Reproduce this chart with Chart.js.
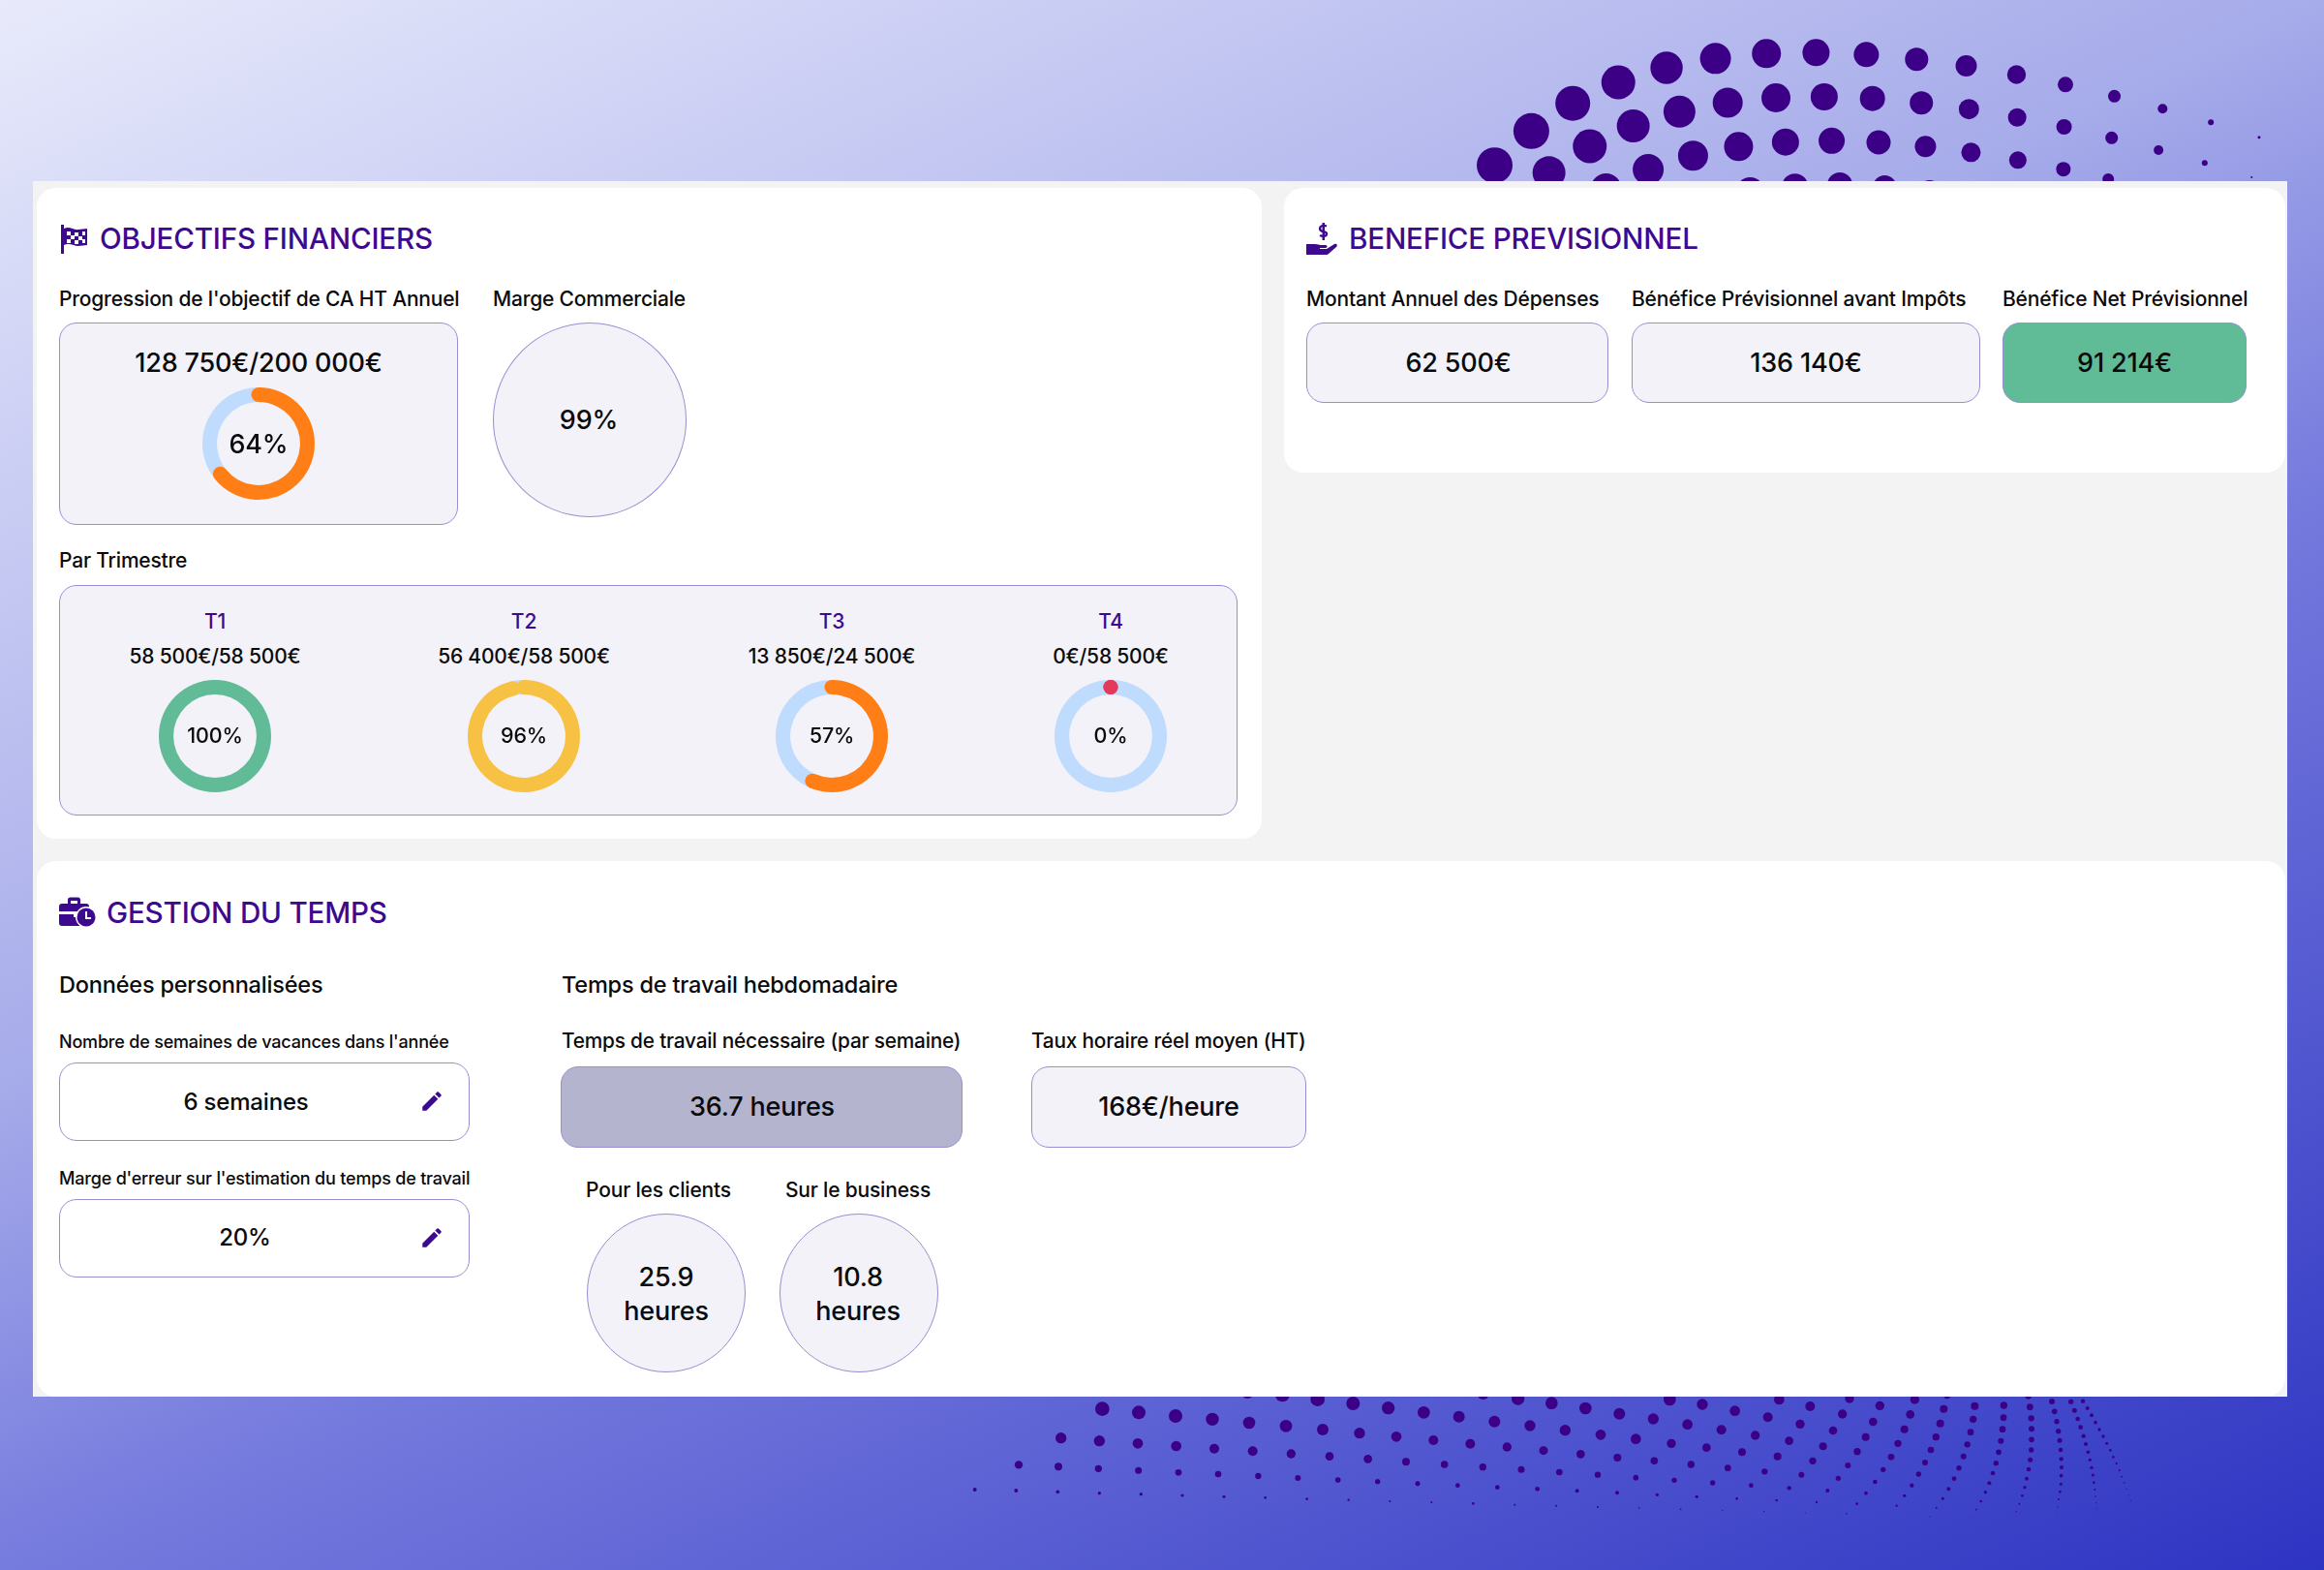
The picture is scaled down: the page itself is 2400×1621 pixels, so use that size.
<!DOCTYPE html>
<html lang="fr">
<head>
<meta charset="utf-8">
<title>Tableau de bord</title>
<script src="https://cdn.jsdelivr.net/npm/chart.js@4"></script>
<style>
  html, body { margin: 0; padding: 0; }
  body {
    position: relative; width: 2400px; height: 1621px; overflow: hidden;
    background: linear-gradient(155deg, #e8eafb 0%, #a6abea 41%, #767bde 59%, #2e34c2 100%);
    font-family: Inter, "Noto Sans", sans-serif; font-weight: 500; color: #0a0a0a;
    letter-spacing: -0.012em;
  }
  .box, .txt, canvas, svg { position: absolute; }
  .box { box-sizing: border-box; }
  .panel { left: 34px; top: 187px; width: 2328px; height: 1255px; background: #f3f3f3; }
  .card { background: #fff; border-radius: 20px; }
  .field { background: #f2f2f8; border: 1.5px solid #9490d2; border-radius: 18px; }
  .round { border-radius: 50%; }
  .txt { white-space: nowrap; line-height: 1; transform: translateY(-50%); }
  .mid { transform: translate(-50%, -50%); text-align: center; }
</style>
</head>
<body>
<canvas id="dots" width="2400" height="1621" style="left:0;top:0"></canvas>
<div class="box panel"></div>
<div class="box card" style="left:38px;top:194px;width:1265px;height:672px"></div>
<div class="box card" style="left:1326px;top:194px;width:1034px;height:294px"></div>
<div class="box card" style="left:38px;top:889px;width:2322px;height:553px"></div>

<div class="box field" style="left:61px;top:333px;width:412px;height:209px"></div>
<div class="box field round" style="left:509px;top:333px;width:200px;height:201px"></div>
<div class="box field" style="left:61px;top:604px;width:1217px;height:238px"></div>
<div class="box field" style="left:1349px;top:333px;width:312px;height:83px"></div>
<div class="box field" style="left:1685px;top:333px;width:360px;height:83px"></div>
<div class="box field" style="left:2068px;top:333px;width:252px;height:83px;background:#60bb97"></div>
<div class="box field" style="left:61px;top:1097px;width:424px;height:81px;background:#fff"></div>
<div class="box field" style="left:61px;top:1238px;width:424px;height:81px;background:#fff"></div>
<div class="box field" style="left:579px;top:1101px;width:415px;height:84px;background:#b4b4ce"></div>
<div class="box field" style="left:1065px;top:1101px;width:284px;height:84px"></div>
<div class="box field round" style="left:606px;top:1253px;width:164px;height:164px"></div>
<div class="box field round" style="left:805px;top:1253px;width:164px;height:164px"></div>

<canvas id="ringYear" width="120" height="120" style="left:207px;top:398px"></canvas>
<canvas id="ringT1" width="120" height="120" style="left:162px;top:700px"></canvas>
<canvas id="ringT2" width="120" height="120" style="left:481px;top:700px"></canvas>
<canvas id="ringT3" width="120" height="120" style="left:799px;top:700px"></canvas>
<canvas id="ringT4" width="120" height="120" style="left:1087px;top:700px"></canvas>

<!-- section icons -->
<svg style="left:60px;top:230px" width="34" height="34" viewBox="0 0 34 34" fill="#3d0a8f">
  <path d="M3 2h3v30H3z"/>
  <path d="M6 6c6-3 10 2 15 1 3 0 6-1 9-1v17c-3 0-6 1-9 1-5 0-9-4-15-1z"/>
  <g fill="#fff">
    <path d="M9 9h4v4H9zM17 10h4v4h-4zM25 9h3v4h-3zM13 13h4v4h-4zM21 14h4v4h-4zM9 17h4v4H9zM17 18h4v4h-4zM25 17h3v4h-3z"/>
  </g>
</svg>
<svg style="left:1346px;top:230px" width="38" height="36" viewBox="0 0 38 36" fill="#3d0a8f">
  <path d="M3 22h9c3 0 4 1 6 1h5c2 0 2 3 0 3h-6v1h7l8-5c2-1 4 1 2 3l-8 7c-1 1-2 1-3 1H3z"/>
  <path d="M24 3.5c-4-1.5-7 0-7 2.5 0 4.500 7 2 7 5.500 0 2.500-4 3-7 1.500" fill="none" stroke="#3d0a8f" stroke-width="2.400"/>
  <path d="M19.500 0h2.500v18h-2.500z"/>
</svg>
<svg style="left:60px;top:925px" width="42" height="36" viewBox="0 0 42 36" fill="#3d0a8f">
  <path d="M10 8V4c0-1.500 1-2.500 2.500-2.500h8C22 1.500 23 2.500 23 4v4h-3V5h-7v3z"/>
  <path d="M1 11c0-2 1-3 3-3h25c2 0 3 1 3 3v5H1z"/>
  <path d="M1 19h15v3h5v-3h10v12H4c-2 0-3-1-3-3z"/>
  <circle cx="29" cy="22" r="11" fill="#fff"/>
  <circle cx="29" cy="22" r="9.500"/>
  <path d="M28 16h2v6h4v2h-6z" fill="#fff"/>
</svg>
<svg style="left:433px;top:1124px" width="26" height="26" viewBox="0 0 24 24" fill="#3d0a8f">
  <path d="M3 17.250V21h3.750L17.810 9.940l-3.750-3.750L3 17.250zM20.710 7.040c.39-.39.39-1.020 0-1.410l-2.340-2.340c-.39-.39-1.020-.39-1.410 0l-1.830 1.830 3.750 3.750 1.830-1.830z"/>
</svg>
<svg style="left:433px;top:1265px" width="26" height="26" viewBox="0 0 24 24" fill="#3d0a8f">
  <path d="M3 17.250V21h3.750L17.810 9.940l-3.750-3.750L3 17.250zM20.710 7.040c.39-.39.39-1.020 0-1.410l-2.340-2.340c-.39-.39-1.020-.39-1.410 0l-1.830 1.830 3.750 3.750 1.830-1.830z"/>
</svg>

<script>
/* Values */

const yearDone = 128750;
const yearGoal = 200000;
const yearLabel = "128 750€/200 000€";
const yearPercent = "64%";
const marginPercent = "99%";

const quarterNames = ["T1", "T2", "T3", "T4"];
const quarterDone = [58500, 56400, 13850, 0];
const quarterGoal = [58500, 58500, 24500, 58500];
const quarterAmounts = ["58 500€/58 500€", "56 400€/58 500€", "13 850€/24 500€", "0€/58 500€"];
const quarterPercents = ["100%", "96%", "57%", "0%"];
const quarterColors = ["#62bb97", "#f7c244", "#ff7f16", "#e33a5c"];

const profitLabels = ["Montant Annuel des Dépenses", "Bénéfice Prévisionnel avant Impôts", "Bénéfice Net Prévisionnel"];
const profitValues = ["62 500€", "136 140€", "91 214€"];

/* Halftone dots: [x, y, r], in the pixels of the crop they were read from */

const dotsTop = [
    [347,512,18.5],[401,406,18.5],[462,320,18],[529,255,17.5],[600,210,16.7],[672,181,16],[747,166,15],[820,163,14],[894,169,13],
    [968,184,12],[1041,204,11],[1115,231,9.7],[1187,262,8],[1259,298,6.5],[1330,337,5],[1401,379,3],[1472,425,1.5],
    [427,535,17],[487,453,17.5],[551,390,17],[619,346,16.5],[690,318,15.5],[761,303,15],[832,300,14],[903,305,13],
    [975,319,12],[1045,338,10.5],[1116,364,9.5],[1185,393,8],[1255,427,6.5],[1324,465,5],[1392,505,3],[1461,549,1],
    [511,585,16],[573,525,16],[639,482,15.5],[706,454,15],[775,440,14],[843,436,13.5],[912,441,12.5],[981,454,11],
    [1048,472,10],[1117,496,9],[1184,524,7.5],[1250,555,6],
    [723,591,14],[789,578,13.5],[855,573,13],[921,579,12],[987,591,11]
];

const dotsBottomLeft = [
    [895,-8,20],[1003,0,22],[1112,14,22],[1222,27,21],[1331,41,20],[1441,55,19],
    [445,44,22],[558,55,21],[672,66,21],[786,76,20],[900,87,19],[1014,97,19],[1128,108,18],[1242,119,17],[1356,130,16],[1471,141,15],
    [317,134,17],[436,143,17],[555,151,16],[674,159,16],[792,167,15],[911,175,15],[1030,183,14],[1149,191,13],[1268,199,13],[1386,208,12],[1505,216,11.5],
    [186,217,12.5],[309,223,12],[433,229,11],[557,235,10.5],[681,241,10],[804,246,10],[928,252,9.5],[1051,258,9],[1175,264,8.5],[1298,269,8],[1422,275,7.5],
    [50,294,6],[178,297,6],[307,301,5.5],[436,305,5],[565,308,5],[693,312,4.5],[822,316,4.5],[950,319,4],[1079,323,4],[1208,326,3.5],[1336,330,3],[1465,333,3]
];

const dotsBottomMiddle = [
    [95,-3,18],[203,12,20],[307,26,19],[412,42,19],[517,59,18],[622,75,17],[728,92,16],[833,109,15],[938,126,14],[1043,143,13],[1148,160,12],
    [20,68,18],[130,83,18],[240,96,17],[349,110,17],[459,124,16],[568,137,16],[678,151,14],[787,164,13],[897,178,12],[1007,191,12],[1116,205,11],
    [55,152,15],[169,162,14],[282,173,13.5],[397,184,13],[511,195,12],[625,205,11.5],[739,216,11],[853,227,10],[967,238,9.5],[1081,248,9],[1195,259,8],
    [94,224,11],[213,232,10.5],[331,240,10],[450,248,9.5],[568,257,8.5],[687,265,8],[806,273,8],[925,281,7],[1043,289,6.5],[1162,297,6],
    [16,281,7],[139,287,7],[263,292,7],[386,298,6],[510,304,6],[634,310,5],[757,316,5],[881,322,4],[1004,327,4],[1128,333,3.5],
    [64,337,4],[193,341,3],[321,344,3],[450,348,3],[578,351,2.5],[707,355,2.5],[836,358,2],[965,362,2],[1093,366,1.5],
    [673,15,19],[774,30,17],[875,50,16],[977,70,15],[1077,91,14],[1179,111,13],
    [1012,15,16],[1108,36,15]
];

const dotsBottomRight = [
    [30,12,14],[8,60,14],
    [124,34,14],[103,84,13],[80,131,12],[54,176,11],[25,219,9],
    [232,15,14],[218,61,13],[200,107,12],[180,151,11],[159,193,10],[134,232,8],[109,270,7],[81,305,5.5],[53,338,4],[21,369,2.5],
    [332,3,10],[322,44,12],[311,89,12],[298,131,11],[282,171,10],[264,210,9],[244,246,8],[223,281,6.5],[200,313,5],[176,344,3.5],
    [418,35,12],[413,76,11],[405,116,10],[395,154,9.5],[383,191,9],[369,227,8],[354,260,7],[337,292,6],[319,322,4.5],[299,350,3],[279,377,1.5],
    [508,33,11],[507,71,10],[504,107,10],[499,143,9],[492,178,8.5],[484,212,8],[474,243,7],[463,274,6],[451,302,5],[437,330,4],[422,356,2.5],[406,381,1],
    [584,4,10],[589,38,10],[593,73,9.5],[594,106,9],[594,139,8.5],[593,171,8],[590,202,7.5],[585,231,7],[579,260,6],[573,287,5],[565,313,4],[556,338,3],[547,362,2],
    [657,21,9],[665,52,8.5],[672,83,8],[677,113,8],[681,142,7.5],[684,171,7],[686,199,6.5],[687,225,6],[686,251,5.5],[685,277,4.5],[682,301,4],[678,324,3],[674,347,2],[670,368,1],
    [716,22,8],[727,49,7.5],[737,75,7],[746,101,7],[755,128,6.5],[762,153,6],[769,178,5.5],[775,202,5],[780,226,5],[784,249,4.5],[787,272,4],[790,294,3],[792,315,2.5],[794,335,2],[795,354,1.5],[796,372,1],
    [753,20,6.5],[767,42,6],[780,64,6],[792,86,5.5],[804,108,5],[816,129,5],[827,151,4.5],[838,172,4],[847,193,4],[857,213,3.5],[866,234,3],[873,254,2.5],[881,273,2.5],[888,292,2],[895,311,1.5],[901,328,1.5],[907,345,1]
];

/* Text */

function text(str, x, y, size, centered, color) {
    const el = document.createElement("div");
    el.className = centered ? "txt mid" : "txt";
    el.textContent = str;
    el.style.left = x + "px";
    el.style.top = y + "px";
    el.style.fontSize = size + "px";
    if (color) el.style.color = color;
    document.body.appendChild(el);
}

const INDIGO = "#3d0a8f";

text("OBJECTIFS FINANCIERS", 103, 247, 29.6, false, INDIGO);
text("BENEFICE PREVISIONNEL", 1393, 247, 29.6, false, INDIGO);
text("GESTION DU TEMPS", 110, 943, 29.6, false, INDIGO);

text("Progression de l'objectif de CA HT Annuel", 61, 308, 21);
text("Marge Commerciale", 509, 308, 21);
text(yearLabel, 267, 374, 27, true);
text(yearPercent, 267, 458, 27, true);
text(marginPercent, 608, 433, 27, true);
text("Par Trimestre", 61, 578, 21);

const quarterX = [222, 541, 859, 1147];
quarterNames.forEach((name, i) => {
    text(name, quarterX[i], 641, 21, true, INDIGO);
    text(quarterAmounts[i], quarterX[i], 677, 21, true);
    text(quarterPercents[i], quarterX[i], 760, 21.5, true);
});

const profitLabelX = [1349, 1685, 2068];
const profitValueX = [1506, 1865, 2194];
profitLabels.forEach((label, i) => {
    text(label, profitLabelX[i], 308, 21);
    text(profitValues[i], profitValueX[i], 374, 27, true);
});

text("Données personnalisées", 61, 1017, 23.5);
text("Temps de travail hebdomadaire", 580, 1017, 23.5);
text("Nombre de semaines de vacances dans l'année", 61, 1076, 18);
text("6 semaines", 254, 1138, 24, true);
text("Marge d'erreur sur l'estimation du temps de travail", 61, 1217, 18);
text("20%", 253, 1278, 24, true);
text("Temps de travail nécessaire (par semaine)", 580, 1075, 20.8);
text("Taux horaire réel moyen (HT)", 1065, 1075, 20.8);
text("36.7 heures", 787, 1142, 27, true);
text("168€/heure", 1207, 1142, 27, true);
text("Pour les clients", 680, 1228, 21, true);
text("Sur le business", 886, 1228, 21, true);
text("25.9", 688, 1318, 27, true);
text("heures", 688, 1353, 27, true);
text("10.8", 886, 1318, 27, true);
text("heures", 886, 1353, 27, true);

/* Rings */

const roundCaps = {

    id: "roundCaps",

    afterDatasetsDraw(chart, args, options) {

        const arc = chart.getDatasetMeta(0).data[0];
        const middle = (arc.innerRadius + arc.outerRadius) / 2;
        const size = (arc.outerRadius - arc.innerRadius) / 2;
        const ctx = chart.ctx;

        ctx.save();
        ctx.fillStyle = options.color;

        [arc.startAngle, arc.endAngle].forEach((angle) => {
            ctx.beginPath();
            ctx.arc(arc.x + Math.cos(angle) * middle, arc.y + Math.sin(angle) * middle, size, 0, Math.PI * 2);
            ctx.fill();
        });

        ctx.restore();

    }

};

function ring(id, done, goal, color) {

    new Chart(document.getElementById(id), {

        type: "doughnut",

        data: {
            datasets: [{
                data: [done, goal - done],
                backgroundColor: [color, "#bfdbfe"],
                borderWidth: 0
            }]
        },

        options: {
            responsive: false,
            animation: false,
            cutout: "74%",
            layout: { padding: 2 },
            plugins: {
                legend: { display: false },
                tooltip: { enabled: false },
                roundCaps: { color: color }
            }
        },

        plugins: [roundCaps]

    });

}

ring("ringYear", yearDone, yearGoal, "#ff7f16");
quarterNames.forEach((name, i) => {
    ring("ring" + name, quarterDone[i], quarterGoal[i], quarterColors[i]);
});

/* Background dots */

function fromCrop(dots, left, top, scaleX, scaleY, scaleR) {
    return dots.map(([x, y, r]) => ({ x: left + x / scaleX, y: top + y / scaleY, r: r / scaleR }));
}

new Chart(document.getElementById("dots"), {

    type: "bubble",

    data: {
        datasets: [{
            data: [
                ...fromCrop(dotsTop, 1300, 0, 1.425, 3, 1),
                ...fromCrop(dotsBottomLeft, 990, 1440, 3, 3, 3),
                ...fromCrop(dotsBottomMiddle, 1500, 1440, 3, 3, 3),
                ...fromCrop(dotsBottomRight, 1900, 1440, 3, 3, 3)
            ],
            backgroundColor: "#3b0086",
            borderWidth: 0,
            clip: false
        }]
    },

    options: {
        responsive: false,
        animation: false,
        layout: { autoPadding: false },
        scales: {
            x: { type: "linear", min: 0, max: 2400, display: false },
            y: { type: "linear", min: 0, max: 1621, reverse: true, display: false }
        },
        plugins: {
            legend: { display: false },
            tooltip: { enabled: false }
        }
    }

});
</script>
</body>
</html>
